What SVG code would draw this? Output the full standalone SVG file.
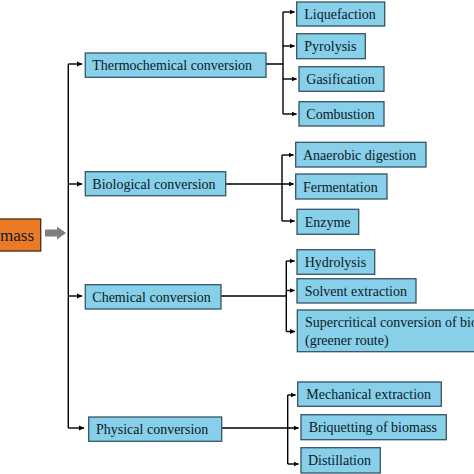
<svg xmlns="http://www.w3.org/2000/svg" width="474" height="474" viewBox="0 0 474 474">
<defs>
<marker id="ah" markerWidth="6" markerHeight="6" refX="5" refY="3" orient="auto" markerUnits="userSpaceOnUse">
<path d="M0,0.5 L5.5,3 L0,5.5 Z" fill="#000"/>
</marker>
<style>
.b{fill:#88CFE9;stroke:#345566;stroke-width:1.3}
.o{fill:#EA7A26;stroke:#4a2a10;stroke-width:1.3}
.t{font-family:"Liberation Serif","Times New Roman",serif;font-size:14px;fill:#0d1a28}
.c{fill:none;stroke:#000;stroke-width:1.4}
.a{fill:none;stroke:#000;stroke-width:1.4;marker-end:url(#ah)}
</style>
</defs>
<rect width="474" height="474" fill="#fff"/>
<g id="connectors">
<path class="c" d="M68.3,64 V428"/>
<path class="a" d="M68.3,64 H82"/>
<path class="a" d="M68.3,184 H82"/>
<path class="a" d="M68.3,296 H82"/>
<path class="a" d="M68.3,428 H84"/>
<path d="M45,229.5 H57 V226.5 L66,233 L57,239.5 V236.5 H45 Z" fill="#7f7f7f"/>
<path class="c" d="M266,64 H283 M283,12 V114"/>
<path class="a" d="M283,12 H294.5"/>
<path class="a" d="M283,46 H294.5"/>
<path class="a" d="M283,79 H296.5"/>
<path class="a" d="M283,114 H296.5"/>
<path class="c" d="M282,155 V221"/>
<path class="a" d="M225.7,184 H293.5"/>
<path class="a" d="M282,155 H293.5"/>
<path class="a" d="M282,221 H294.5"/>
<path class="c" d="M221,296 H286.3 M286.3,261 V331.5"/>
<path class="a" d="M286.3,261 H294.5"/>
<path class="a" d="M286.3,290.5 H294.5"/>
<path class="a" d="M286.3,331.5 H295"/>
<path class="c" d="M287.7,395 V464"/>
<path class="a" d="M221.7,428 H298.5"/>
<path class="a" d="M287.7,395 H295.5"/>
<path class="a" d="M287.7,464 H298.5"/>
</g>
<g id="biomass"><rect class="o" x="-5" y="219" width="45.7" height="32"/><text class="t" style="font-size:17px" x="0" y="241">mass</text></g>
<g id="thermo"><rect class="b" x="85.3" y="53" width="180.7" height="24.3"/><text class="t" x="92.3" y="70">Thermochemical conversion</text></g>
<g id="bio"><rect class="b" x="85.3" y="171.7" width="140.4" height="24"/><text class="t" x="92.3" y="188.7">Biological conversion</text></g>
<g id="chem"><rect class="b" x="85.3" y="284.7" width="135.7" height="24.3"/><text class="t" x="92.3" y="301.7">Chemical conversion</text></g>
<g id="phys"><rect class="b" x="88.7" y="417" width="133" height="24.3"/><text class="t" x="96" y="434">Physical conversion</text></g>
<g id="liq"><rect class="b" x="296.7" y="2" width="88" height="24"/><text class="t" x="304.3" y="19">Liquefaction</text></g>
<g id="pyr"><rect class="b" x="296.7" y="33.7" width="68.6" height="25"/><text class="t" x="304.3" y="51">Pyrolysis</text></g>
<g id="gas"><rect class="b" x="299" y="66.7" width="85" height="24.6"/><text class="t" x="306.3" y="84">Gasification</text></g>
<g id="comb"><rect class="b" x="299" y="101.7" width="85" height="24.3"/><text class="t" x="306.3" y="119">Combustion</text></g>
<g id="anaer"><rect class="b" x="295.7" y="142.3" width="130.3" height="24.7"/><text class="t" x="303" y="159.7">Anaerobic digestion</text></g>
<g id="ferm"><rect class="b" x="295.7" y="174" width="91.3" height="25"/><text class="t" x="303" y="191.5">Fermentation</text></g>
<g id="enz"><rect class="b" x="297" y="209.3" width="61.7" height="25"/><text class="t" x="304.7" y="226.8">Enzyme</text></g>
<g id="hyd"><rect class="b" x="297" y="249.7" width="77.7" height="24.6"/><text class="t" x="304.7" y="267">Hydrolysis</text></g>
<g id="solv"><rect class="b" x="297" y="278.7" width="119" height="24.3"/><text class="t" x="304.7" y="295.8">Solvent extraction</text></g>
<g id="super"><rect class="b" x="297.3" y="310" width="190" height="41.7"/><text class="t" x="305" y="327.3">Supercritical conversion of biomass</text><text class="t" x="305" y="345">(greener route)</text></g>
<g id="mech"><rect class="b" x="297.7" y="382" width="143.6" height="24.3"/><text class="t" x="306.3" y="399.2">Mechanical extraction</text></g>
<g id="briq"><rect class="b" x="301" y="414.7" width="145.3" height="25"/><text class="t" x="308.7" y="432.2">Briquetting of biomass</text></g>
<g id="dist"><rect class="b" x="301" y="447.7" width="79.3" height="25.3"/><text class="t" x="308" y="465.2">Distillation</text></g>
</svg>
